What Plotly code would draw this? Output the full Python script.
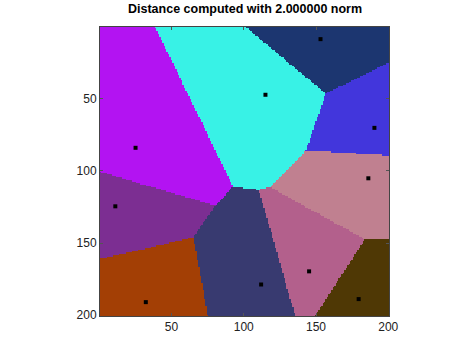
import numpy as np
import plotly.graph_objects as go

# Points that define the coloured regions (read from the region boundaries)
region_seed_x = [26.1, 121.8, 153.2, 182.2, 180.2, 19.6, 36.4, 108.2, 146.7, 181.2]
region_seed_y = [96.1, 49.5, 11.7, 70.6, 105.8, 118.3, 191.1, 177.8, 166.7, 189.2]
# Black square markers as drawn on the chart
marker_x = [25.1, 115.0, 153.1, 190.4, 186.2, 11.1, 32.2, 112.0, 145.2, 179.5]
marker_y = [84.1, 47.4, 8.9, 70.3, 105.2, 124.6, 190.9, 178.7, 169.6, 188.8]
region_colors = ["#b313f2", "#38f2e6", "#1c3670", "#4236dc", "#c08090",
                 "#7c2e92", "#a33f05", "#383a70", "#b3608c", "#4f3805"]
x_ticks = [50, 100, 150, 200]
y_ticks = [50, 100, 150, 200]
grid_size = 200
norm_p = 2.0
title_text = "Distance computed with %f norm" % norm_p

# Nearest-seed labelling with the p-norm
cols = np.arange(1, grid_size + 1)
rows = np.arange(1, grid_size + 1)
XX, YY = np.meshgrid(cols, rows)
sx = np.array(region_seed_x)[:, None, None]
sy = np.array(region_seed_y)[:, None, None]
dist = (np.abs(XX[None] - sx) ** norm_p + np.abs(YY[None] - sy) ** norm_p) ** (1 / norm_p)
labels = np.argmin(dist, axis=0)

n = len(region_colors)
colorscale = []
for k, c in enumerate(region_colors):
    colorscale.append([k / n, c])
    colorscale.append([(k + 1) / n, c])

fig = go.Figure()
fig.add_trace(go.Heatmap(
    x=cols, y=rows, z=labels, colorscale=colorscale,
    zmin=-0.5, zmax=n - 0.5, showscale=False, hoverinfo="skip"))
fig.add_trace(go.Scatter(
    x=marker_x, y=marker_y, mode="markers",
    marker=dict(symbol="square", size=4, color="black", line=dict(width=0)),
    showlegend=False))

axis_common = dict(
    showgrid=False, zeroline=False, ticks="inside", ticklen=3, tickwidth=1,
    tickcolor="#555555", showline=True, linecolor="#444444", linewidth=1,
    mirror="ticks", tickfont=dict(family="Liberation Sans, Arial, sans-serif",
                                  size=12, color="#222222"))
fig.update_layout(
    width=474, height=355,
    margin=dict(l=100, r=85, t=27, b=39),
    paper_bgcolor="white", plot_bgcolor="white",
    title=dict(text="<b>" + title_text + "</b>", x=0.517, xanchor="center",
               y=0.976, yanchor="middle",
               font=dict(family="Liberation Sans, Arial, sans-serif", size=12.5,
                         color="black")),
    xaxis=dict(range=[0.5, grid_size + 0.5], tickvals=x_ticks, **axis_common),
    yaxis=dict(range=[grid_size + 0.5, 0.5], tickvals=y_ticks, **axis_common),
    showlegend=False,
)
fig.write_html("out.html", config={"displayModeBar": False},
               post_script="document.body.style.margin='0';")
